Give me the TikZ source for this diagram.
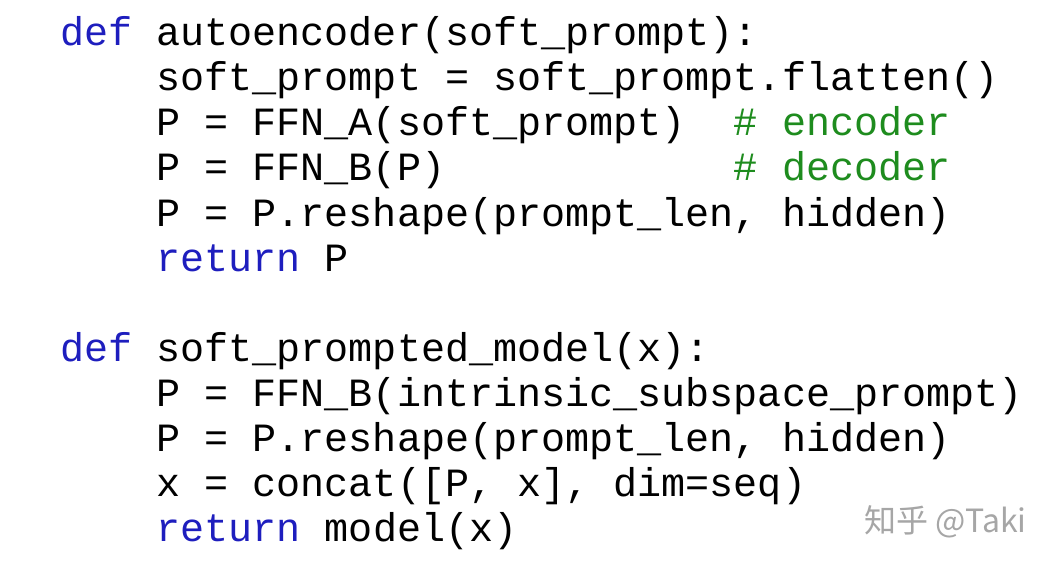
\documentclass[tikz,border=0pt]{standalone}
\usepackage{fontspec}
\setmonofont{Liberation Mono}
\newfontfamily\cjk{Noto Sans CJK SC}
\definecolor{kw}{RGB}{30,30,190}
\definecolor{cm}{RGB}{30,140,30}
\begin{document}
\begin{tikzpicture}[x=1pt,y=1pt,
  codeline/.style={anchor=base west,inner sep=0,font=\ttfamily\fontsize{40.1}{45}\selectfont}]
\useasboundingbox (0,0) rectangle (1054,566);
\fill[white] (0,0) rectangle (1054,566);
\def\K#1{\textcolor{kw}{#1}}
\def\C#1{\textcolor{cm}{#1}}
\node[codeline] (l1) at (60,520) {\K{def} autoencoder(soft\_prompt):};
\node[codeline] (l2) at (60,475) {\ \ \ \ soft\_prompt = soft\_prompt.flatten()};
\node[codeline] (l3) at (60,430) {\ \ \ \ P = FFN\_A(soft\_prompt)\ \ \C{\# encoder}};
\node[codeline] (l4) at (60,385) {\ \ \ \ P = FFN\_B(P)\ \ \ \ \ \ \ \ \ \ \ \ \C{\# decoder}};
\node[codeline] (l5) at (60,340) {\ \ \ \ P = P.reshape(prompt\_len, hidden)};
\node[codeline] (l6) at (60,295) {\ \ \ \ \K{return} P};
\node[codeline] (l7) at (60,205) {\K{def} soft\_prompted\_model(x):};
\node[codeline] (l8) at (60,160) {\ \ \ \ P = FFN\_B(intrinsic\_subspace\_prompt)};
\node[codeline] (l9) at (60,115) {\ \ \ \ P = P.reshape(prompt\_len, hidden)};
\node[codeline] (l10) at (60,70) {\ \ \ \ x = concat([P, x], dim=seq)};
\node[codeline] (l11) at (60,25) {\ \ \ \ \K{return} model(x)};
\node[anchor=base west,inner sep=0,text=black!35,font=\cjk\fontsize{32}{34}\selectfont] (wm) at (864,34) {知乎 @Taki};
\end{tikzpicture}
\end{document}
